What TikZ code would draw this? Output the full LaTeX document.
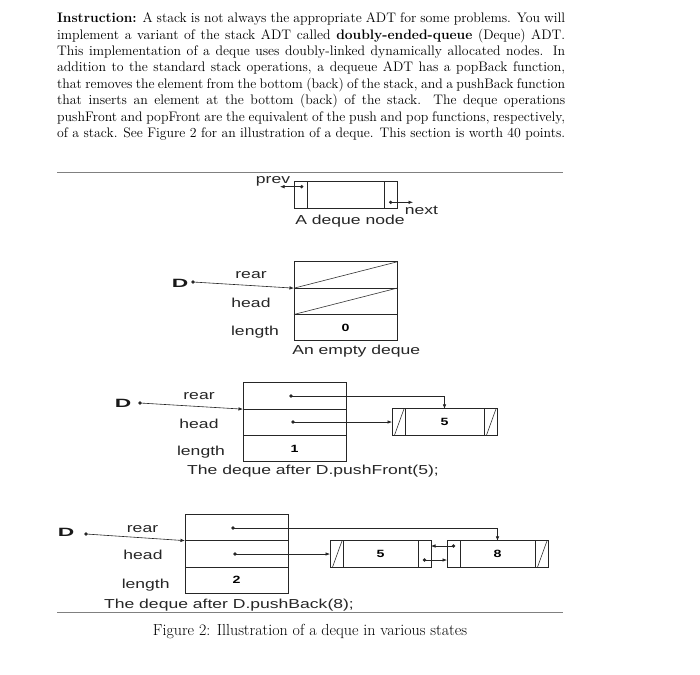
\documentclass[tikz,border=0pt]{standalone}
\usepackage{fontspec}
\newfontfamily\diafont[FakeStretch=1.35]{Liberation Sans}
\newfontfamily\dptrfont[FakeStretch=1.9]{Liberation Sans}
\usetikzlibrary{arrows.meta,positioning}
\newcommand\lblfont{\diafont\fontsize{13}{15}\selectfont}
\newcommand\numfont{\diafont\bfseries\fontsize{10.5}{12}\selectfont}
\newcommand\instrline[1]{\hbox to 508pt{\spaceskip=0pt\xspaceskip=0pt #1}}
\tikzset{
	cell/.style={draw=black!85, line width=0.8pt, minimum width=#1, minimum height=26.3pt, inner sep=0pt, outer sep=0pt, font=\numfont},
	cell/.default=103pt,
	cellline/.style={draw=black!80, line width=0.6pt},
	ptr/.style={draw=black!85, line width=0.6pt, -{Latex[length=4.5pt,width=3.5pt]}},
	dot/.style={circle, fill=black!85, inner sep=0pt, minimum size=3.6pt},
	lbl/.style={font=\lblfont, text=black!85, inner sep=0pt},
	dlbl/.style={font=\dptrfont\bfseries\fontsize{12}{14}\selectfont, text=black!90, inner sep=0pt},
	rulestyle/.style={draw=black!50, line width=1pt}
}
\begin{document}
\begin{tikzpicture}[x=1pt,y=-1pt]
	\useasboundingbox[fill=white] (0,0) rectangle (700,674);

	\node[anchor=north west, inner sep=0pt, text width=508pt, align=justify, font=\fontsize{13.8}{16.4}\selectfont] (instr) at (57,12.7) {%
		\instrline{\textbf{Instruction:} A stack is not always the appropriate ADT for some problems. You will}
		\instrline{implement a variant of the stack ADT called \textbf{doubly-ended-queue} (Deque) ADT.}
		\instrline{This implementation of a deque uses doubly-linked dynamically allocated nodes. In}
		\instrline{addition to the standard stack operations, a dequeue ADT has a popBack function,}
		\instrline{that removes the element from the bottom (back) of the stack, and a pushBack function}
		\instrline{that inserts an element at the bottom (back) of the stack. The deque operations}
		\instrline{pushFront and popFront are the equivalent of the push and pop functions, respectively,}
		\instrline{of a stack. See Figure 2 for an illustration of a deque. This section is worth 40 points.}};

	\draw[rulestyle] (57,172) -- (563,172);

	% a deque node
	\node[cell=13pt, minimum height=27pt] (np) at (300.5,194.5) {};
	\node[cell=77pt, minimum height=27pt, right=0pt of np] (nd) {};
	\node[cell=13pt, minimum height=27pt, right=0pt of nd] (nn) {};
	\node[dot] (npd) at (301.7,186.7) {};
	\node[dot] (nnd) at (390.7,202.3) {};
	\coordinate (npe) at (280,186.7);
	\coordinate (nne) at (413,202.3);
	\draw[ptr] (npd.center) -- (npe);
	\draw[ptr] (nnd.center) -- (nne);
	\node[lbl] (nprev) at (273,181) {prev};
	\node[lbl] (nnext) at (421.5,210) {next};
	\node[lbl] (ncap) at (350,221) {A deque node};

	% empty deque
	\node[cell] (er) at (345.5,275) {};
	\node[cell, below=0pt of er] (eh) {};
	\node[cell, below=0pt of eh] (el) {0};
	\draw[cellline] (er.south west) -- (er.north east);
	\draw[cellline] (eh.south west) -- (eh.north east);
	\node[dlbl] (eD) at (180,283) {D};
	\node[dot] (eDd) at (193,282) {};
	\draw[ptr] (eDd.center) -- (er.south west);
	\node[lbl] (erl) at (251,275) {rear};
	\node[lbl] (ehl) at (251,302.5) {head};
	\node[lbl] (ell) at (255,332.5) {length};
	\node[lbl] (ecap) at (356.3,351) {An empty deque};

	% after pushFront(5)
	\node[cell] (fr) at (294.5,396) {};
	\node[cell, below=0pt of fr] (fh) {};
	\node[cell, below=0pt of fh] (fl) {1};
	\node[cell=13pt] (fp) at (398.5,422) {};
	\node[cell=79pt, right=0pt of fp] (fd) {5};
	\node[cell=13pt, right=0pt of fd] (fn) {};
	\draw[cellline] ([xshift=2.5pt]fp.south west) -- ([xshift=-1pt]fp.north east);
	\draw[cellline] ([xshift=2.5pt]fn.south west) -- ([xshift=-1pt]fn.north east);
	\node[dot] (frd) at (291,396) {};
	\node[dot] (fhd) at (293,422) {};
	\draw[ptr] (frd.center) -| (fd.north);
	\draw[ptr] (fhd.center) -- (fp.west);
	\node[dlbl] (fD) at (123,403) {D};
	\node[dot] (fDd) at (140,403) {};
	\draw[ptr] (fDd.center) -- (fr.south west);
	\node[lbl] (frl) at (199,396) {rear};
	\node[lbl] (fhl) at (199,423.5) {head};
	\node[lbl] (fll) at (201,452.5) {length};
	\node[lbl] (fcap) at (313,471) {The deque after D.pushFront(5);};

	% after pushBack(8)
	\node[cell] (br) at (236.5,527.5) {};
	\node[cell, below=0pt of br] (bh) {};
	\node[cell, below=0pt of bh] (bl) {2};
	\node[cell=13pt] (ap) at (336.5,554) {};
	\node[cell=75pt, right=0pt of ap] (ad) {5};
	\node[cell=13pt, right=0pt of ad] (an) {};
	\node[cell=13pt] (cp) at (453.5,554) {};
	\node[cell=75pt, right=0pt of cp] (cd) {8};
	\node[cell=13pt, right=0pt of cd] (cn) {};
	\draw[cellline] ([xshift=2.5pt]ap.south west) -- ([xshift=-1pt]ap.north east);
	\draw[cellline] ([xshift=2.5pt]cn.south west) -- ([xshift=-1pt]cn.north east);
	\node[dot] (brd) at (233,528) {};
	\node[dot] (bhd) at (235,554) {};
	\node[dot] (and) at (424.5,560) {};
	\node[dot] (cpd) at (453.5,546) {};
	\draw[ptr] (brd.center) -| (cd.north);
	\draw[ptr] (bhd.center) -- (ap.west);
	\draw[ptr] (and.center) -- (and.center -| cp.west);
	\draw[ptr] (cpd.center) -- (cpd.center -| an.east);
	\node[dlbl] (bD) at (66,532) {D};
	\node[dot] (bDd) at (86,534) {};
	\draw[ptr] (bDd.center) -- (br.south west);
	\node[lbl] (brl) at (142.5,529) {rear};
	\node[lbl] (bhl) at (143,555) {head};
	\node[lbl] (bll) at (145.7,585) {length};
	\node[lbl] (bcap) at (229,605) {The deque after D.pushBack(8);};

	\draw[rulestyle] (57,612) -- (563,612);
	\node[font=\fontsize{16}{18}\selectfont, inner sep=0pt] (fig) at (310,632) {Figure 2: Illustration of a deque in various states};
\end{tikzpicture}
\end{document}
